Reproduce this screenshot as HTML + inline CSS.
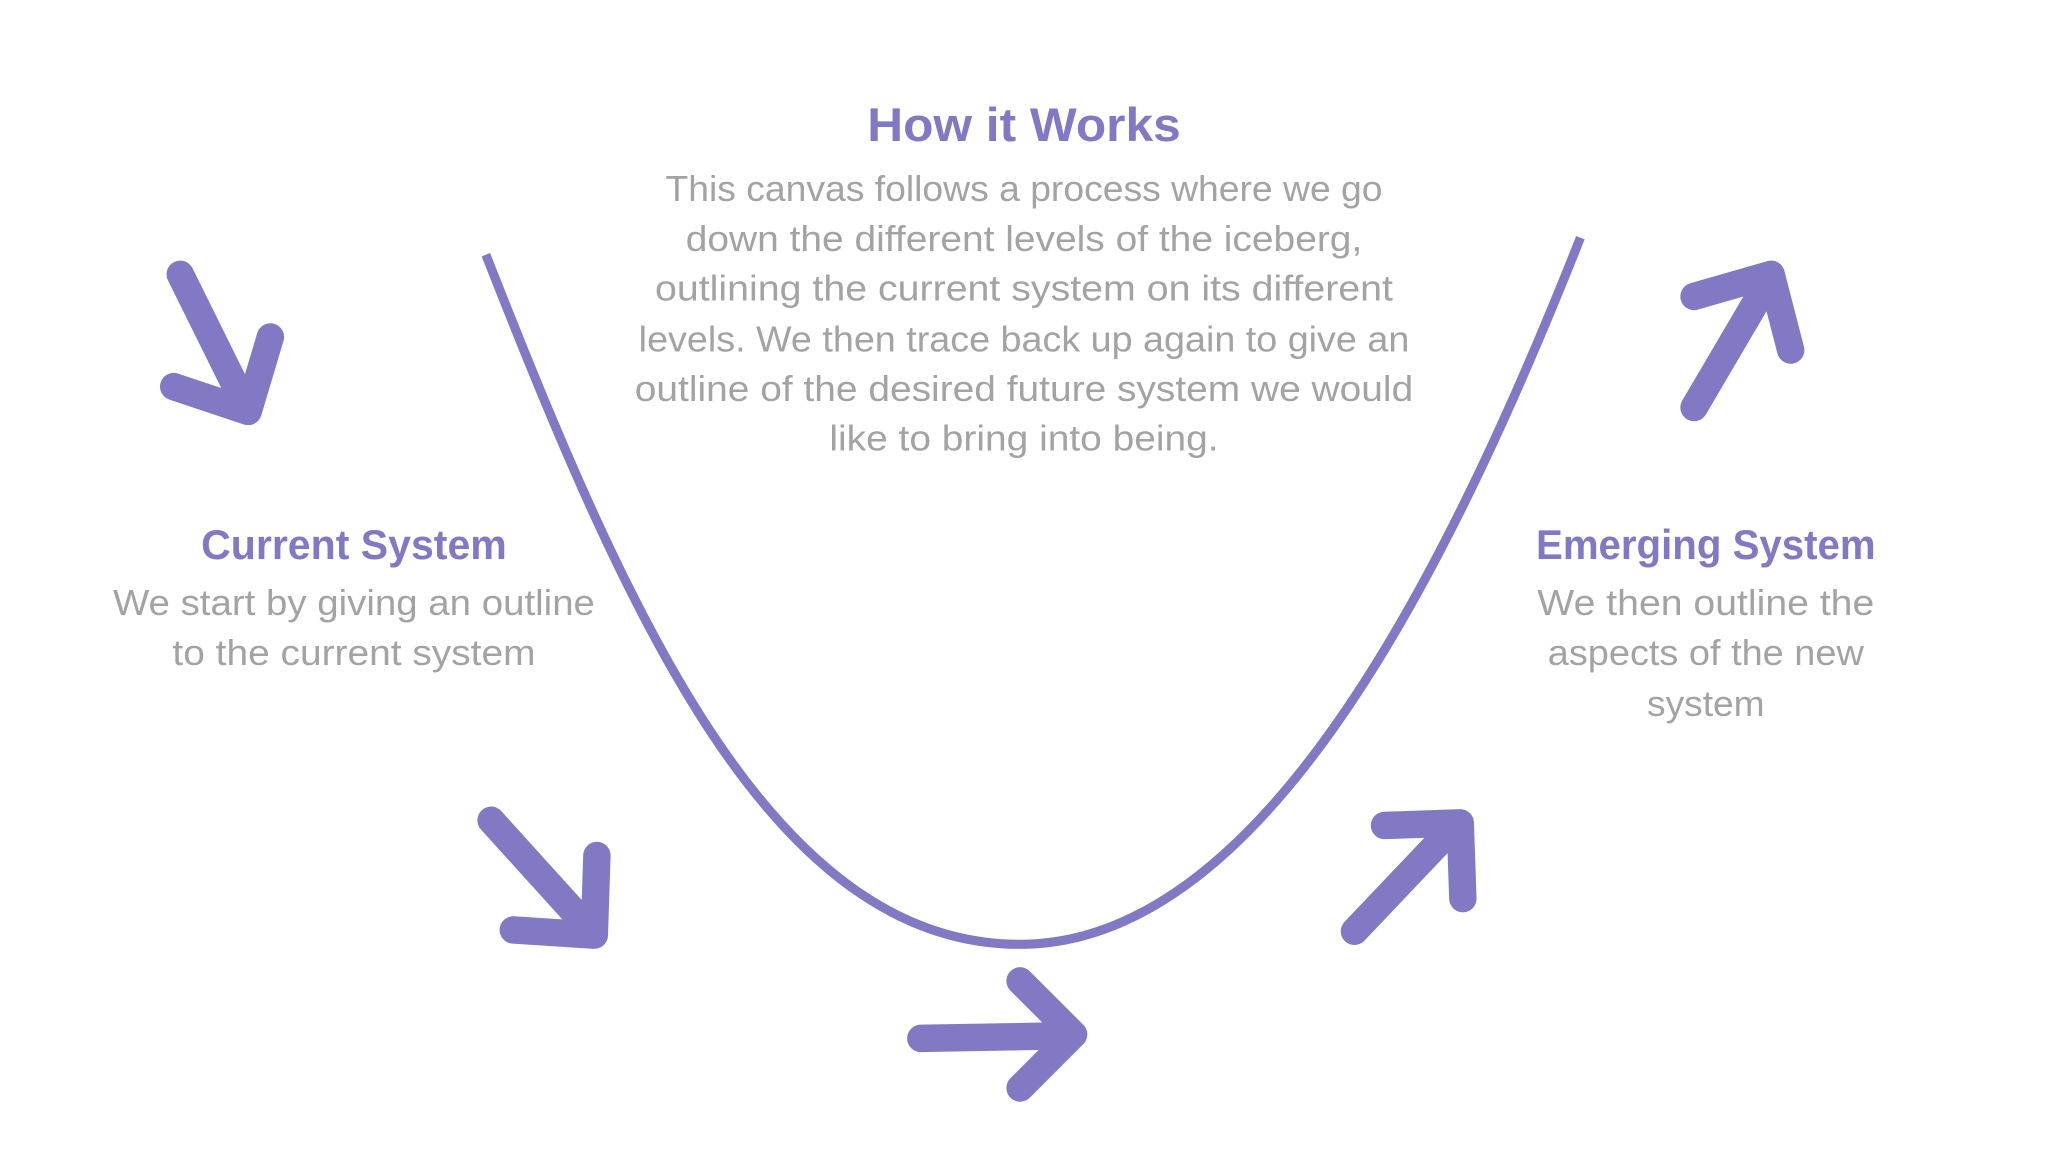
<!DOCTYPE html>
<html><head><meta charset="utf-8"><style>
html,body{margin:0;padding:0;background:#fff;}
svg{display:block}
.t{font-family:"Liberation Sans",sans-serif;fill:#a3a3a3;font-size:28px;text-anchor:middle}
.h{font-family:"Liberation Sans",sans-serif;fill:#8279c4;font-weight:bold;text-anchor:middle}
</style></head><body>
<svg width="2048" height="1152" viewBox="0 0 1568 882" preserveAspectRatio="none">
<text class="h" x="784" y="108" font-size="36" textLength="240" lengthAdjust="spacingAndGlyphs">How it Works</text>
<g class="t">
<text x="784" y="154" textLength="549" lengthAdjust="spacingAndGlyphs">This canvas follows a process where we go</text>
<text x="784" y="192" textLength="518" lengthAdjust="spacingAndGlyphs">down the different levels of the iceberg,</text>
<text x="784" y="230" textLength="565" lengthAdjust="spacingAndGlyphs">outlining the current system on its different</text>
<text x="784" y="269" textLength="590" lengthAdjust="spacingAndGlyphs">levels. We then trace back up again to give an</text>
<text x="784" y="307" textLength="596" lengthAdjust="spacingAndGlyphs">outline of the desired future system we would</text>
<text x="784" y="345" textLength="298" lengthAdjust="spacingAndGlyphs">like to bring into being.</text>
</g>
<text class="h" x="271" y="428" font-size="32" textLength="234" lengthAdjust="spacingAndGlyphs">Current System</text>
<g class="t">
<text x="271" y="471" textLength="369" lengthAdjust="spacingAndGlyphs">We start by giving an outline</text>
<text x="271" y="509" textLength="278" lengthAdjust="spacingAndGlyphs">to the current system</text>
</g>
<text class="h" x="1306" y="428" font-size="32" textLength="260" lengthAdjust="spacingAndGlyphs">Emerging System</text>
<g class="t">
<text x="1306" y="471" textLength="258" lengthAdjust="spacingAndGlyphs">We then outline the</text>
<text x="1306" y="509" textLength="242" lengthAdjust="spacingAndGlyphs">aspects of the new</text>
<text x="1306" y="548" textLength="90" lengthAdjust="spacingAndGlyphs">system</text>
</g>
<path d="M372,195 C480,470 590,723 781,723 C960,723 1100,460 1210,182" fill="none" stroke="#8279c4" stroke-width="7"/>
<g fill="none" stroke="#8279c4" stroke-width="21" stroke-linecap="round" stroke-linejoin="round">
<path d="M138,210 L188,311 M133,296 L190,315 L207,258"/>
<path d="M376,628 L452,712 M393,712 L455,716 L457,655"/>
<path d="M705,795 L818,793 M781,751 L822,792 L781,833"/>
<path d="M1037,713 L1113,633 M1060,632 L1118,630 L1120,688"/>
<path d="M1297,312 L1354,215 M1297,227 L1356,210 L1371,268"/>
</g>
</svg>
</body></html>
